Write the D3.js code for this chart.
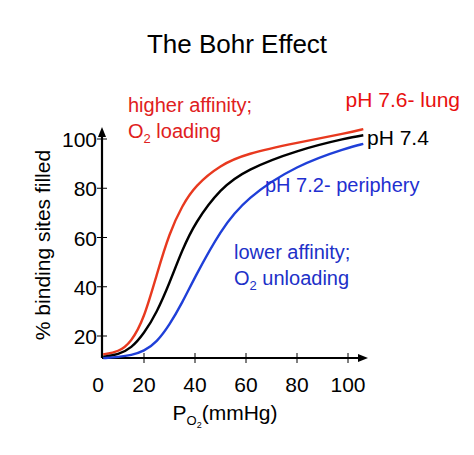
<!DOCTYPE html><html><head><meta charset="utf-8"><script src="https://cdn.jsdelivr.net/npm/d3@7"></script>
<style>body{margin:0;background:#fff}text{font-family:"Liberation Sans",Arial,sans-serif}</style></head><body><svg width="474" height="455"></svg>
<script>
const po2 = [4,10,15,20,25,30,35,40,50,60,80,100,106];
const lung = [12.5,13.5,17.5,27,45,62,73,81,89.5,94,98.5,102.5,104];
const normal = [11.5,12.5,15,21,29.5,41.5,55,66,80,87.5,95.5,100.5,101.5];
const periphery = [11,11.5,12.2,13.8,17.5,24.5,33.5,44,63,76,89.5,96.5,98];
const xTicks = [0,20,40,60,80,100];
const yTicks = [20,40,60,80,100];
const svg = d3.select("svg");
const x = d3.scaleLinear().domain([0,100]).range([93,348]);
const y = d3.scaleLinear().domain([20,100]).range([336,139]);
const x0 = 102, y0 = 358;
const ax = svg.append("g").attr("stroke","#000").attr("stroke-width",2.2);
ax.append("line").attr("x1",x0).attr("x2",360).attr("y1",y0).attr("y2",y0);
ax.append("line").attr("x1",x0).attr("x2",x0).attr("y1",y0).attr("y2",133);
svg.append("path").attr("d",`M${x0-4},137 L${x0},127 L${x0+4},137Z`);
svg.append("path").attr("d",`M358,${y0-4} L368,${y0} L358,${y0+4}Z`);
xTicks.slice(1).forEach(t=>ax.append("line").attr("stroke-width",1).attr("x1",x(t)).attr("x2",x(t)).attr("y1",y0-5).attr("y2",y0+5));
yTicks.forEach(t=>ax.append("line").attr("stroke-width",1).attr("x1",x0-5).attr("x2",x0+5).attr("y1",y(t)).attr("y2",y(t)));
xTicks.forEach(t=>svg.append("text").attr("x",t===0?98:x(t)).attr("y",392).attr("text-anchor","middle").attr("font-size",21).text(t));
yTicks.forEach(t=>svg.append("text").attr("x",x0-5).attr("y",y(t)+8).attr("text-anchor","end").attr("font-size",21).text(t));
const line = d3.line().x((d,i)=>x(po2[i])).y(d=>y(d)).curve(d3.curveBasis);
[[lung,"#e8391f"],[normal,"#000"],[periphery,"#1f3fd8"]].forEach(([s,c])=>
 svg.append("path").attr("d",line(s)).attr("fill","none").attr("stroke",c).attr("stroke-width",2.4));
function t(xp,yp,txt,c,anchor="start",size=20){return svg.append("text").attr("x",xp).attr("y",yp).attr("fill",c).attr("font-size",size).attr("text-anchor",anchor).text(txt);}
t(237,53,"The Bohr Effect","#000","middle",26);
t(128,112,"higher affinity;","#e02020");
const l = t(128,138,"","#e02020"); l.append("tspan").text("O"); l.append("tspan").attr("font-size",13).attr("dy",5).text("2"); l.append("tspan").attr("dy",-5).text(" loading");
t(460,107,"pH 7.6- lung","#e81010","end",21);
t(367,145,"pH 7.4","#000","start",21);
t(265,192,"pH 7.2- periphery","#1f2fd0","start",20);
t(234,259,"lower affinity;","#2030c8");
const u = t(234,285,"","#2030c8"); u.append("tspan").text("O"); u.append("tspan").attr("font-size",13).attr("dy",5).text("2"); u.append("tspan").attr("dy",-5).text(" unloading");
svg.append("text").attr("transform","translate(50,245) rotate(-90)").attr("text-anchor","middle").attr("font-size",21).text("% binding sites filled");
const xl = svg.append("text").attr("x",225).attr("y",420).attr("text-anchor","middle").attr("font-size",21);
xl.append("tspan").text("P"); xl.append("tspan").attr("font-size",13).attr("dy",5).text("O");
xl.append("tspan").attr("font-size",9).attr("dy",3).text("2"); xl.append("tspan").attr("dy",-8).text("(mmHg)");
</script></body></html>
